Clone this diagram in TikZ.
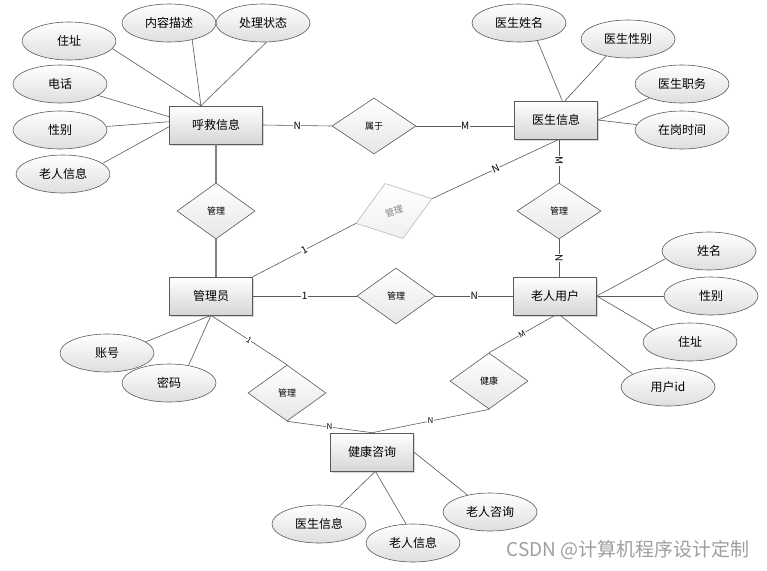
\documentclass[tikz,border=0pt]{standalone}
\usepackage{fontspec}
\setmainfont{Noto Sans CJK SC}
\usetikzlibrary{shapes.geometric,shadows}
\definecolor{linegray}{HTML}{5A5A5A}
\definecolor{fillgray}{HTML}{D6D6D6}
\tikzset{every picture/.style={line width=0.6pt}}

\begin{document}
\begin{tikzpicture}[x=1pt,y=-1pt,
    entity/.style={draw=linegray,top color=white,bottom color=fillgray,minimum width=83pt,minimum height=38pt,inner sep=0pt,font=\fontsize{12}{14}\selectfont,drop shadow={shadow xshift=1.5pt,shadow yshift=-1.5pt,opacity=0.3}},
    attr/.style={ellipse,draw=linegray,top color=white,bottom color=fillgray!80,minimum width=94pt,minimum height=38pt,inner sep=0pt,font=\fontsize{12}{14}\selectfont},
    rel/.style={diamond,draw=linegray,top color=white,bottom color=fillgray!60,minimum width=78pt,minimum height=56pt,inner sep=0pt,font=\fontsize{9}{10}\selectfont},
    link/.style={draw=linegray},
    card/.style={fill=white,inner sep=0.5pt,font=\fontsize{10}{11}\selectfont},
    smallcard/.style={fill=white,inner sep=0.3pt,font=\fontsize{8}{9}\selectfont}]
        \fill[white] (0,0) rectangle (767,570);
        \useasboundingbox (0,0) rectangle (767,570);
        % entities
        \node[entity,minimum width=93pt] (hj) at (216,125) {呼救信息};
        \node[entity] (ys) at (556,120) {医生信息};
        \node[entity] (gly) at (211,296) {管理员};
        \node[entity] (lr) at (555,296) {老人用户};
        \node[entity] (jk) at (372,452) {健康咨询};
        % relations
        \node[rel,minimum width=84pt] (sy) at (374,126) {属于};
        \node[rel] (gl1) at (216,211) {管理};
        \node[rel,draw=gray!55,text=gray,top color=white,bottom color=gray!12,rotate=18,minimum width=80pt,minimum height=58pt] (gl2) at (394,211) {管理};
        \node[rel] (gl3) at (396,296) {管理};
        \node[rel,minimum width=84pt] (gl4) at (559,211) {管理};
        \node[rel] (gl5) at (287,393) {管理};
        \node[rel] (jkr) at (489,381) {健康};
        % attributes
        \node[attr] (hjzz) at (69,41) {住址};
        \node[attr] (hjnr) at (169,23) {内容描述};
        \node[attr] (hjcl) at (263,23) {处理状态};
        \node[attr] (hjdh) at (60,84) {电话};
        \node[attr] (hjxb) at (60,130) {性别};
        \node[attr] (hjlr) at (63,174) {老人信息};
        \node[attr] (ysxm) at (519,23) {医生姓名};
        \node[attr] (ysxb) at (628,39) {医生性别};
        \node[attr] (yszw) at (682,84) {医生职务};
        \node[attr] (yszg) at (682,130) {在岗时间};
        \node[attr] (lrxm) at (709,251) {姓名};
        \node[attr] (lrxb) at (711,296) {性别};
        \node[attr] (lrzz) at (690,342) {住址};
        \node[attr] (lrid) at (668,387) {用户id};
        \node[attr] (glzh) at (107,353) {账号};
        \node[attr] (glmm) at (169,383) {密码};
        \node[attr] (jkys) at (319,524) {医生信息};
        \node[attr] (jklr) at (413,543) {老人信息};
        \node[attr] (jkzx) at (490,512) {老人咨询};
        % attribute lines
        \draw[link] (hjzz.-10) -- (hj.128);
        \draw[link] (hjnr.-36) -- (hj.128);
        \draw[link] (hjcl.-80) -- (hj.128);
        \draw[link] (hjdh) -- (hj.170);
        \draw[link] (hjxb) -- (hj.176);
        \draw[link] (hjlr.15) -- (hj.-178);
        \draw[link] (ysxm.-44) -- (ys.72);
        \draw[link] (ysxb.-142) -- (ys.65);
        \draw[link] (yszw) -- (ys.east);
        \draw[link] (yszg) -- (ys.east);
        \draw[link] (lrxm.-170) -- (lr.east);
        \draw[link] (lrxb) -- (lr.east);
        \draw[link] (lrzz.161) -- (lr.east);
        \draw[link] (lrid.160) -- (lr.-75);
        \draw[link] (glzh.16) -- (gly.south);
        \draw[link] (glmm.42) -- (gly.south);
        \draw[link] (jkys.41) -- (jk.-80);
        \draw[link] (jklr.110) -- (jk.-80);
        \draw[link] (jkzx.143) -- (jk.east);
        % relation lines
        \draw[link] (hj.east) -- node[card] {N} (sy.west);
        \draw[link] (sy.east) -- node[card] {M} (sy.east -| ys.west);
        \draw[draw=gray,line width=1.1pt] (hj.south) -- (gl1.north);
        \draw[draw=gray,line width=1.1pt] (gl1.south) -- (gl1 |- gly.north);
        \draw[link] (gly.north east) -- node[card,sloped] {1} (gl2.west);
        \draw[link] (gl2.east) -- node[card,sloped] {N} (gl4 |- ys.south);
        \draw[link] (gl4 |- ys.south) -- node[card,sloped] {M} (gl4.north);
        \draw[link] (gl4.south) -- node[card,sloped] {N} (gl4 |- lr.north);
        \draw[link] (gly.east) -- node[card] {1} (gl3.west);
        \draw[link] (gl3.east) -- node[card] {N} (lr.west);
        \draw[link] (gly.south) -- node[smallcard,sloped] {1} (gl5.north);
        \draw[link] (gl5.south) -- node[smallcard] {N} (jk.north);
        \draw[link] (jkr.south) -- node[smallcard] {N} (jk.north);
        \draw[link] (jkr.north) -- node[smallcard,sloped] {M} (lr.south);
        \node[text=gray!75,font=\fontsize{19}{22}\selectfont,anchor=east] (wm) at (753,550) {CSDN @计算机程序设计定制};
    \end{tikzpicture}
\end{document}
